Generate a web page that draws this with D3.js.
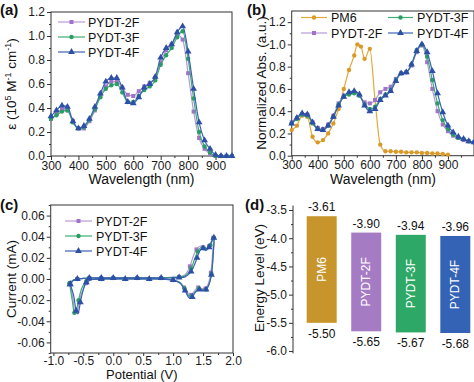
<!DOCTYPE html>
<html><head><meta charset="utf-8">
<script src="https://cdn.jsdelivr.net/npm/d3@7"></script>
<style>body{margin:0;background:#fff}svg{display:block}text{font-family:"Liberation Sans",Arial,sans-serif}</style>
</head><body><svg id="c" width="474" height="382"></svg>
<script>
// ---------------- DATA ----------------
const acceptors = ["PYDT-2F","PYDT-3F","PYDT-4F"];
// (a) molar extinction, wavelength grid (nm)
const wlA = [300,320,340,360,380,400,420,440,460,480,500,520,540,560,580,600,620,640,660,680,700,720,740,760,780,800,820,840,860,880,900,920,940,960];
const epsA2F = [0.31,0.35,0.39,0.38,0.29,0.23,0.23,0.29,0.38,0.50,0.58,0.62,0.62,0.57,0.51,0.50,0.54,0.58,0.61,0.65,0.78,0.88,0.93,1.01,0.97,0.69,0.37,0.15,0.06,0.02,0.0,0.0,0.0,0.0];
const epsA3F = [0.31,0.34,0.37,0.38,0.28,0.23,0.24,0.30,0.39,0.49,0.56,0.59,0.60,0.53,0.45,0.45,0.50,0.55,0.58,0.63,0.76,0.84,0.90,0.99,1.04,0.81,0.48,0.20,0.08,0.03,0.0,0.0,0.0,0.0];
const epsA4F = [0.33,0.38,0.42,0.41,0.29,0.23,0.25,0.31,0.41,0.52,0.62,0.65,0.65,0.57,0.45,0.44,0.49,0.57,0.60,0.66,0.82,0.90,0.93,1.03,1.08,0.87,0.56,0.28,0.13,0.06,0.01,0.0,0.0,0.0];
// (b) normalized film absorption
const wlB = [300,320,340,360,380,400,420,440,460,480,500,520,540,560,580,600,620,640,660,680,700,720,740,760,780,800,820,840,860,880,900,920,940,960,980,1000];
const absB2F = [0.30,0.34,0.37,0.37,0.30,0.25,0.24,0.28,0.36,0.47,0.54,0.56,0.57,0.54,0.48,0.47,0.50,0.57,0.60,0.62,0.69,0.74,0.75,0.81,0.93,0.99,0.84,0.60,0.40,0.28,0.22,0.18,0.16,0.14,0.13,0.12];
const absB3F = [0.29,0.33,0.37,0.36,0.29,0.24,0.23,0.27,0.35,0.46,0.53,0.55,0.56,0.54,0.46,0.42,0.44,0.51,0.55,0.59,0.68,0.74,0.75,0.82,0.95,1.00,0.89,0.68,0.47,0.32,0.24,0.19,0.16,0.15,0.13,0.12];
const absB4F = [0.29,0.34,0.38,0.37,0.30,0.24,0.23,0.27,0.35,0.45,0.53,0.57,0.58,0.55,0.45,0.40,0.42,0.50,0.54,0.58,0.67,0.74,0.75,0.82,0.94,1.00,0.93,0.76,0.56,0.39,0.27,0.21,0.17,0.15,0.13,0.12];
const wlPM6 = [300,320,340,360,380,400,420,440,460,480,500,520,540,552,566,580,600,620,640,660,680,700,720,740,760,780,800,820,840,860,880,900];
const absPM6 = [0.23,0.27,0.36,0.35,0.17,0.12,0.14,0.20,0.29,0.42,0.60,0.77,0.90,1.00,0.98,0.87,0.96,0.50,0.10,0.04,0.04,0.035,0.035,0.03,0.03,0.03,0.025,0.025,0.02,0.02,0.015,0.01];
// (c) cyclic voltammetry loops (V, mA)
const cvV2F = [-0.72,-0.66,-0.6,-0.5,-0.4,-0.3,-0.2,-0.1,0.0,0.2,0.4,0.6,0.8,1.0,1.1,1.2,1.28,1.34,1.39,1.45,1.5,1.55,1.6,1.65,1.67,1.66,1.63,1.59,1.54,1.48,1.42,1.36,1.3,1.25,1.18,1.1,1.0,0.8,0.6,0.4,0.2,0.0,-0.2,-0.35,-0.45,-0.52,-0.57,-0.61,-0.64,-0.67,-0.72];
const cvI2F = [-0.004,-0.001,0.0,0.0005,0.001,0.001,0.001,0.001,0.001,0.001,0.001,0.001,0.001,0.0015,0.002,0.004,0.012,0.022,0.028,0.031,0.030,0.028,0.031,0.037,0.039,0.025,0.006,-0.004,-0.009,-0.009,-0.008,-0.011,-0.015,-0.014,-0.008,-0.003,-0.001,0,0,0,0,0,0,-0.0005,-0.004,-0.012,-0.022,-0.031,-0.031,-0.020,-0.004];
const cvV3F = [-0.73,-0.67,-0.6,-0.5,-0.4,-0.3,-0.2,-0.1,0.0,0.2,0.4,0.6,0.8,1.0,1.1,1.2,1.3,1.36,1.41,1.47,1.52,1.57,1.62,1.66,1.68,1.67,1.64,1.6,1.55,1.49,1.43,1.37,1.31,1.26,1.19,1.11,1.0,0.8,0.6,0.4,0.2,0.0,-0.2,-0.35,-0.45,-0.52,-0.58,-0.62,-0.65,-0.68,-0.73];
const cvI3F = [-0.004,-0.001,0.0,0.0005,0.001,0.001,0.001,0.001,0.001,0.001,0.001,0.001,0.001,0.0015,0.002,0.003,0.010,0.019,0.026,0.030,0.029,0.028,0.032,0.038,0.039,0.025,0.005,-0.005,-0.010,-0.010,-0.009,-0.012,-0.016,-0.016,-0.009,-0.003,-0.001,0,0,0,0,0,0,-0.0005,-0.002,-0.008,-0.020,-0.030,-0.032,-0.022,-0.004];
const cvV4F = [-0.72,-0.66,-0.6,-0.5,-0.4,-0.3,-0.2,-0.1,0.0,0.2,0.4,0.6,0.8,1.0,1.1,1.2,1.3,1.36,1.4,1.45,1.5,1.55,1.6,1.65,1.68,1.67,1.64,1.6,1.55,1.5,1.44,1.38,1.32,1.27,1.2,1.12,1.0,0.8,0.6,0.4,0.2,0.0,-0.2,-0.35,-0.45,-0.5,-0.55,-0.59,-0.62,-0.66,-0.72];
const cvI4F = [-0.005,-0.001,0.0,0.0005,0.001,0.001,0.001,0.001,0.001,0.001,0.001,0.001,0.001,0.001,0.0015,0.002,0.007,0.014,0.020,0.027,0.029,0.027,0.030,0.036,0.039,0.024,0.004,-0.005,-0.010,-0.011,-0.010,-0.012,-0.017,-0.018,-0.011,-0.004,-0.001,0,0,0,0,0,0,-0.0005,-0.003,-0.010,-0.022,-0.033,-0.030,-0.016,-0.005];
// (d) energy levels
const materials = ["PM6","PYDT-2F","PYDT-3F","PYDT-4F"];
const lumo = [-3.61,-3.90,-3.94,-3.96];
const homo = [-5.50,-5.65,-5.67,-5.68];
// tick values
const ticksWl = [300,400,500,600,700,800,900];
const ticksA_y = [0.0,0.2,0.4,0.6,0.8,1.0,1.2];
const ticksCV_x = [-1.0,-0.5,0.0,0.5,1.0,1.5,2.0];
const ticksCV_y = [-0.06,-0.04,-0.02,0.0,0.02,0.04,0.06];
const ticksE = [-3.5,-4.0,-4.5,-5.0,-5.5,-6.0];

// ---------------- STYLE ----------------
const sty = {
  "PYDT-2F": {line:"#b79ad8", mark:"#a173c8", sym:d3.symbolSquare, size:16},
  "PYDT-3F": {line:"#3cad74", mark:"#2a9d60", sym:d3.symbolCircle, size:15},
  "PYDT-4F": {line:"#3d62b4", mark:"#2d4fa6", sym:d3.symbolTriangle, size:20},
  "PM6":     {line:"#e2aa3a", mark:"#d99a28", sym:d3.symbolCircle, size:15}
};
const barFill = {"PM6":"#c8952c","PYDT-2F":"#a57bc4","PYDT-3F":"#2ea866","PYDT-4F":"#3463b5"};
const FONT = '"Liberation Sans",Arial,sans-serif';

const svg = d3.select("#c");
svg.append("rect").attr("width",474).attr("height",382).attr("fill","#fff");

function fmt(n){ return d => (Math.abs(d)<1e-9?0:d).toFixed(n); }

function drawAxes(g, x, y, o){
  const yb = y.range()[0], yt = y.range()[1];
  const xl = x.range()[0], xr = x.range()[1];
  const mk = (sel)=>{ sel.select(".domain").remove(); sel.selectAll("line").attr("stroke","#333");
    sel.selectAll("text").attr("font-size",12).attr("fill","#1a1a1a").attr("font-family",FONT); };
  const xs = o.xSize || 4, xp = (o.xPad!==undefined)? o.xPad : 1;
  if (o.xTicks){
    g.append("g").attr("transform",`translate(0,${yb})`).call(d3.axisBottom(x).tickValues(o.xMinor).tickSize(2).tickFormat("")).call(mk);
    g.append("g").attr("transform",`translate(0,${yb})`).call(d3.axisBottom(x).tickValues(o.xTicks).tickSize(xs).tickPadding(xp).tickFormat(o.xFmt)).call(mk);
  }
  g.append("g").attr("transform",`translate(${xl},0)`).call(d3.axisLeft(y).tickValues(o.yMinor).tickSize(2).tickFormat("")).call(mk);
  g.append("g").attr("transform",`translate(${xl},0)`).call(d3.axisLeft(y).tickValues(o.yTicks).tickSize(4).tickPadding(2).tickFormat(o.yFmt)).call(mk);
  if (o.box){
    g.append("rect").attr("x",xl).attr("y",yt).attr("width",xr-xl).attr("height",yb-yt)
      .attr("fill","none").attr("stroke","#333").attr("stroke-width",1);
  } else {
    g.append("line").attr("x1",xl).attr("x2",xl).attr("y1",yt).attr("y2",yb).attr("stroke","#333");
  }
}

function series(g, pts, name, x, y, curve, markEvery){
  const s = sty[name];
  g.append("path").datum(pts).attr("fill","none").attr("stroke",s.line).attr("stroke-width",1.2)
    .attr("d", d3.line().x(d=>x(d[0])).y(d=>y(d[1])).curve(curve));
  const sym = d3.symbol().type(s.sym).size(s.size);
  g.selectAll(null).data(pts.filter((d,i)=>i%markEvery===0)).enter().append("path")
    .attr("transform",d=>`translate(${x(d[0])},${y(d[1])})`).attr("d",sym).attr("fill",s.mark);
}

function legendItem(g, x1, x2, tx, yy, name){
  const s = sty[name];
  g.append("line").attr("x1",x1).attr("x2",x2).attr("y1",yy).attr("y2",yy).attr("stroke",s.line).attr("stroke-width",1.2);
  g.append("path").attr("transform",`translate(${(x1+x2)/2},${yy})`).attr("d",d3.symbol().type(s.sym).size(s.size)).attr("fill",s.mark);
  g.append("text").attr("x",tx).attr("y",yy).attr("dy","0.36em").attr("font-size",12.5).attr("fill","#111").text(name);
}

function panelLabel(txt, x, y){
  svg.append("text").attr("x",x).attr("y",y).attr("font-size",15).attr("font-weight","bold").attr("fill","#111").text(txt);
}
function xTitle(txt, x, y, fs){ svg.append("text").attr("x",x).attr("y",y).attr("text-anchor","middle").attr("font-size",fs||14).attr("fill","#111").text(txt); }
function yTitle(x, y){ return svg.append("text").attr("transform",`translate(${x},${y}) rotate(-90)`).attr("text-anchor","middle").attr("font-size",13.5).attr("fill","#111"); }

// ---------------- (a) ----------------
{
  const g = svg.append("g");
  const x = d3.scaleLinear().domain([300,960]).range([51,232]);
  const y = d3.scaleLinear().domain([0,1.2]).range([156,12]);
  drawAxes(g,x,y,{box:true,xTicks:ticksWl,xMinor:[350,450,550,650,750,850,950],xFmt:d3.format("d"),
    yTicks:ticksA_y,yMinor:[0.1,0.3,0.5,0.7,0.9,1.1],yFmt:fmt(1)});
  const data = {"PYDT-2F":epsA2F,"PYDT-3F":epsA3F,"PYDT-4F":epsA4F};
  acceptors.forEach(n=> series(g, wlA.map((w,i)=>[w,data[n][i]]), n, x, y, d3.curveMonotoneX, 1));
  [22,37,52].forEach((yy,i)=>legendItem(g,58,85,88,yy,acceptors[i]));
  panelLabel("(a)",0,14.5);
  xTitle("Wavelength (nm)",141.5,184);
  const t = yTitle(16,84);
  t.append("tspan").text("ε (10");
  t.append("tspan").attr("dy",-5).attr("font-size",9).text("5");
  t.append("tspan").attr("dy",5).text(" M");
  t.append("tspan").attr("dy",-5).attr("font-size",9).text("-1");
  t.append("tspan").attr("dy",5).text(" cm");
  t.append("tspan").attr("dy",-5).attr("font-size",9).text("-1");
  t.append("tspan").attr("dy",5).text(")");
}

// ---------------- (b) ----------------
{
  const g = svg.append("g");
  const x = d3.scaleLinear().domain([300,1000]).range([291.7,474]);
  const y = d3.scaleLinear().domain([0,1.3]).range([155.7,11]);
  drawAxes(g,x,y,{box:true,xTicks:ticksWl,xMinor:[350,450,550,650,750,850,950,1000],xFmt:d3.format("d"),
    yTicks:ticksA_y,yMinor:[0.1,0.3,0.5,0.7,0.9,1.1],yFmt:fmt(1)});
  series(g, wlPM6.map((w,i)=>[w,absPM6[i]]), "PM6", x, y, d3.curveMonotoneX, 1);
  const data = {"PYDT-2F":absB2F,"PYDT-3F":absB3F,"PYDT-4F":absB4F};
  acceptors.forEach(n=> series(g, wlB.map((w,i)=>[w,data[n][i]]), n, x, y, d3.curveMonotoneX, 1));
  legendItem(g,301,327,331,17.5,"PM6");
  legendItem(g,301,327,331,33,"PYDT-2F");
  legendItem(g,388,413,417,17.5,"PYDT-3F");
  legendItem(g,388,413,417,33,"PYDT-4F");
  panelLabel("(b)",247,14.5);
  xTitle("Wavelength (nm)",383,184);
  yTitle(266,83).text("Normalized Abs. (a.u.)");
}

// ---------------- (c) ----------------
{
  const g = svg.append("g");
  const x = d3.scaleLinear().domain([-1.045,2.0]).range([50.7,233]);
  const y = d3.scaleLinear().domain([-0.07,0.07]).range([353,205]);
  drawAxes(g,x,y,{box:true,xTicks:ticksCV_x,xMinor:[-0.75,-0.25,0.25,0.75,1.25,1.75],xFmt:fmt(1),xSize:3,xPad:0,
    yTicks:ticksCV_y,yMinor:[-0.07,-0.05,-0.03,-0.01,0.01,0.03,0.05,0.07],yFmt:fmt(2)});
  const V = {"PYDT-2F":cvV2F,"PYDT-3F":cvV3F,"PYDT-4F":cvV4F};
  const I = {"PYDT-2F":cvI2F,"PYDT-3F":cvI3F,"PYDT-4F":cvI4F};
  acceptors.forEach(n=> series(g, V[n].map((v,i)=>[v,I[n][i]]), n, x, y, d3.curveCatmullRom.alpha(0.5), 2));
  [221,236,251].forEach((yy,i)=>legendItem(g,65,92,96,yy,acceptors[i]));
  panelLabel("(c)",0,210);
  xTitle("Potential (V)",141.8,379,13);
  yTitle(16,279).text("Current (mA)");
}

// ---------------- (d) ----------------
{
  const g = svg.append("g");
  const y = d3.scaleLinear().domain([-6.04,-3.42]).range([353.3,205.5]);
  const xb = d3.scaleBand().domain(materials).range([293,484]).paddingInner(0.3266).paddingOuter(0.3075);
  drawAxes(g,d3.scaleLinear().range([293,474]),y,{box:false,
    yTicks:ticksE,yMinor:[-3.75,-4.25,-4.75,-5.25,-5.75],yFmt:fmt(1)});
  materials.forEach((m,i)=>{
    const x0 = xb(m), w = xb.bandwidth(), cx = x0 + w/2;
    g.append("rect").attr("x",x0).attr("y",y(lumo[i])).attr("width",w).attr("height",y(homo[i])-y(lumo[i])).attr("fill",barFill[m]);
    g.append("text").attr("x",cx).attr("y",y(lumo[i])-5).attr("text-anchor","middle").attr("font-size",12).attr("fill","#111").text(lumo[i].toFixed(2));
    g.append("text").attr("x",cx).attr("y",y(homo[i])+15).attr("text-anchor","middle").attr("font-size",12).attr("fill","#111").text(homo[i].toFixed(2));
    const my = (y(lumo[i])+y(homo[i]))/2;
    g.append("text").attr("transform",`translate(${cx+4},${my}) rotate(-90)`).attr("text-anchor","middle")
      .attr("font-size",12).attr("fill","#fff").text(m);
  });
  panelLabel("(d)",245,210);
  yTitle(264,278).text("Energy Level (eV)");
}
</script></body></html>
